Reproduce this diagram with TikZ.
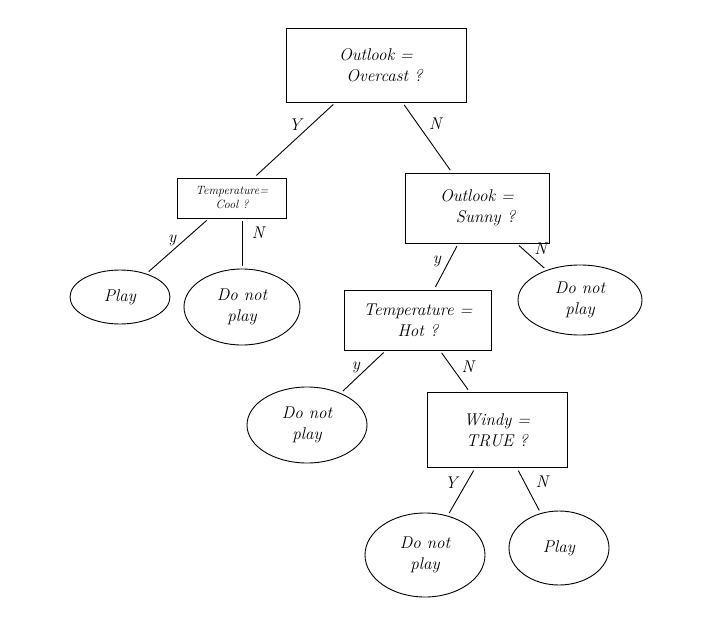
\documentclass[tikz,border=0pt]{standalone}
\usetikzlibrary{shapes.geometric}
\begin{document}
\begin{tikzpicture}[x=1pt,y=-1pt,
  box/.style={draw,line width=0.9pt,rectangle,align=center,font=\itshape\fontsize{17}{21}\selectfont},
  leaf/.style={draw,line width=0.9pt,ellipse,align=center,font=\itshape\fontsize{17}{21}\selectfont,inner sep=0pt},
  edge/.style={line width=0.9pt,shorten >=3pt,shorten <=3pt},
  lab/.style={font=\itshape\fontsize{17}{21}\selectfont}]
\useasboundingbox (0,0) rectangle (720,634);
\node[box,minimum width=180,minimum height=74] (root) at (376,65) {Outlook =\\ \quad Overcast ?};
\node[box,minimum width=109,minimum height=40,inner sep=1pt,font=\itshape\fontsize{12}{14}\selectfont] (cool) at (232,198) {Temperature=\\Cool ?};
\node[box,minimum width=144,minimum height=70] (sunny) at (477,208) {Outlook =\\ \quad Sunny ?};
\node[leaf,minimum width=100,minimum height=54] (p1) at (120,297) {Play};
\node[leaf,minimum width=116,minimum height=76] (d1) at (242,307) {Do not\\play};
\node[box,minimum width=147,minimum height=60] (hot) at (418,320) {Temperature =\\Hot ?};
\node[leaf,minimum width=124,minimum height=70] (d2) at (580,300) {Do not\\play};
\node[leaf,minimum width=120,minimum height=76] (d3) at (307,425) {Do not\\play};
\node[box,minimum width=140,minimum height=75] (windy) at (497,430) {Windy =\\TRUE ?};
\node[leaf,minimum width=120,minimum height=84] (d4) at (425,555) {Do not\\play};
\node[leaf,minimum width=100,minimum height=74] (p2) at (559,548) {Play};
\draw[edge] (root) -- (cool) node[lab,pos=0.3,left=6pt] {Y};
\draw[edge] (root) -- (sunny) node[lab,pos=0.3,right=8pt] {N};
\draw[edge] (cool) -- (p1) node[lab,pos=0.4,left=4pt] {y};
\coordinate (c1) at (242,218);
\draw[edge,shorten <=3pt] (c1) -- (d1) node[lab,pos=0.3,right=6pt] {N};
\draw[edge] (sunny) -- (hot) node[lab,pos=0.4,left=4pt] {y};
\draw[edge] (sunny) -- (d2) node[lab,pos=0.2,right=8pt] {N};
\draw[edge] (hot) -- (d3) node[lab,pos=0.4,left=4pt] {y};
\draw[edge] (hot) -- (windy) node[lab,pos=0.4,right=6pt] {N};
\draw[edge] (windy) -- (d4) node[lab,pos=0.3,left=6pt] {Y};
\draw[edge] (windy) -- (p2) node[lab,pos=0.3,right=8pt] {N};
\end{tikzpicture}
\end{document}
